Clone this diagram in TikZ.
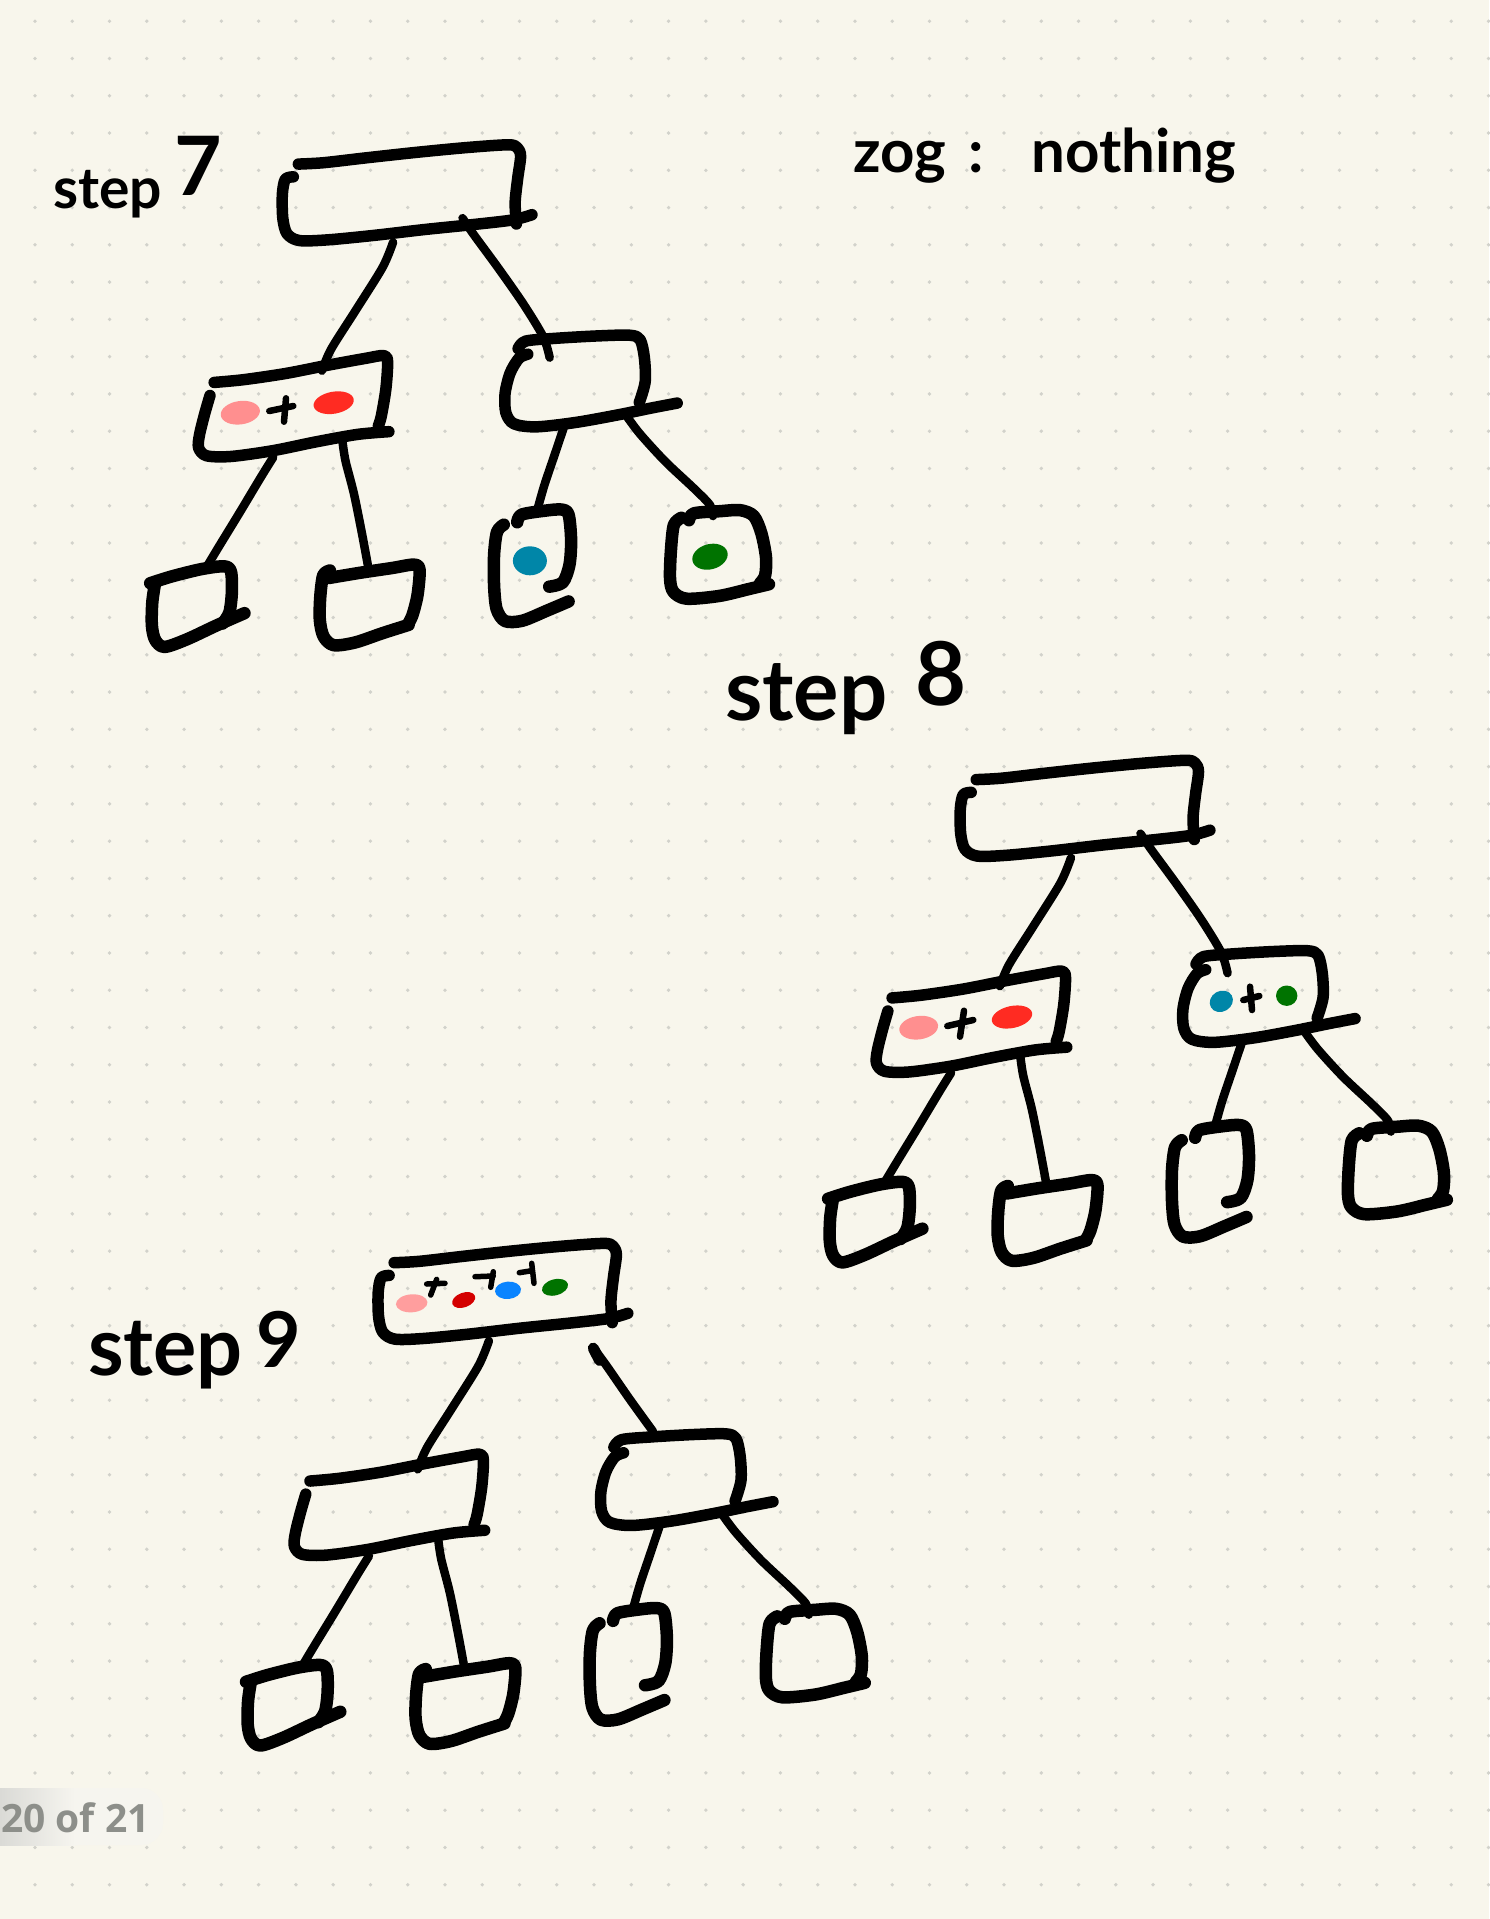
\documentclass[tikz,border=0pt]{standalone}
\usepackage{fontspec}
\setmainfont{Lato}
\newfontfamily\uifont{Open Sans}
\definecolor{bgc}{HTML}{F8F6EC}
\definecolor{dotc}{HTML}{D2D2CB}
\definecolor{pinkc}{HTML}{FF8F8F}
\definecolor{pinkl}{HTML}{FF9E9E}
\definecolor{redc}{HTML}{FF2B22}
\definecolor{redd}{HTML}{D40000}
\definecolor{tealc}{HTML}{0086A8}
\definecolor{bluec}{HTML}{0A84FF}
\definecolor{greenc}{HTML}{007300}
\definecolor{uigray}{HTML}{8D8F8A}
\definecolor{pillc}{HTML}{F6F5EF}
\definecolor{pillg}{HTML}{DADAD6}
\newcommand\treebody[1]{%
  % top box
  \draw[boxpen] plot[smooth] coordinates {(400,128) (460,124) (560,110) (680,94) (800,80) (898,72) (920,80) (928,105) (921,170) (915,240) (918,302)};
  \draw[boxpen] plot[smooth] coordinates {(388,165) (369,172) (362,215) (363,285) (373,330) (402,350) (470,348) (580,335) (700,318) (820,303) (910,290) (955,275)};
  % left child
  \draw[boxpen] plot[smooth] coordinates {(200,762) (270,754) (370,736) (470,712) (560,692) (603,684) (612,702) (608,780) (597,860) (590,888)};
  \draw[boxpen] plot[smooth] coordinates {(190,800) (177,855) (165,915) (163,952) (182,975) (240,977) (340,960) (440,935) (540,913) (615,905)};
  % right child
  \draw[boxpen] plot[smooth] coordinates {(922,664) (940,642) (1010,634) (1110,627) (1188,625) (1212,638) (1222,690) (1224,760) (1210,820)};
  \draw[boxpen] plot[smooth] coordinates {(945,680) (924,692) (903,735) (891,795) (893,850) (912,882) (965,891) (1060,878) (1160,856) (1240,836) (1300,822)};
  % edge end points
  \coordinate (#1-top-l) at (625,355);
  \coordinate (#1-lc-t) at (456,728);
  \coordinate (#1-lc-l) at (340,980);
  \coordinate (#1-lc-r) at (505,935);
  \coordinate (#1-rc-l) at (1030,895);
  \coordinate (#1-rc-r) at (1180,860);
  \coordinate (#1-l1) at (185,1292);
  \coordinate (#1-l2) at (565,1292);
  \coordinate (#1-l3) at (966,1140);
  \coordinate (#1-l4) at (1385,1150);
  % edges
  \draw[edgepen] plot[smooth] coordinates {(#1-top-l) (600,428) (535,555) (478,665) (#1-lc-t)};
  \draw[edgepen] plot[smooth] coordinates {(#1-lc-l) (312,1035) (258,1145) (213,1235) (#1-l1)};
  \draw[edgepen] plot[smooth] coordinates {(#1-lc-r) (512,990) (532,1085) (551,1200) (#1-l2)};
  \draw[edgepen] plot[smooth] coordinates {(#1-rc-l) (1008,975) (984,1062) (#1-l3)};
  \draw[edgepen] plot[smooth] coordinates {(#1-rc-r) (1212,912) (1272,992) (1340,1070) (1378,1118) (#1-l4)};
  % leaves
  \draw[leafpen] plot[smooth] coordinates {(48,1345) (100,1325) (170,1304) (224,1296) (240,1312) (242,1372) (236,1430) (220,1462)};
  \draw[leafpen] plot[smooth] coordinates {(60,1342) (53,1400) (52,1468) (60,1510) (82,1530) (135,1508) (205,1468) (272,1432)};
  \draw[leafpen] plot[smooth] coordinates {(472,1330) (545,1315) (622,1301) (674,1291) (688,1306) (683,1380) (671,1438) (660,1465)};
  \draw[leafpen] plot[smooth] coordinates {(475,1308) (459,1322) (452,1385) (451,1452) (460,1500) (484,1525) (535,1517) (600,1490) (662,1466)};
  \draw[leafpen] plot[smooth] coordinates {(920,1168) (930,1146) (982,1135) (1025,1131) (1042,1146) (1048,1220) (1044,1292) (1028,1343) (996,1355)};
  \draw[leafpen] plot[smooth] coordinates {(888,1175) (872,1196) (865,1262) (865,1352) (871,1420) (891,1455) (932,1454) (990,1425) (1042,1398)};
  \draw[leafpen] plot[smooth] coordinates {(1328,1162) (1340,1142) (1400,1136) (1450,1133) (1482,1150) (1500,1200) (1511,1270) (1509,1322) (1497,1345)};
  \draw[leafpen] plot[smooth] coordinates {(1310,1155) (1292,1176) (1285,1252) (1283,1332) (1291,1370) (1322,1390) (1400,1382) (1470,1362) (1518,1348)};
}
\begin{document}
\begin{tikzpicture}[x=1pt,y=-1pt,line cap=round,line join=round,
  boxpen/.style={line width=11.5pt,black},
  leafpen/.style={line width=12.5pt,black},
  edgepen/.style={line width=8.5pt,black},
  pluspen/.style={line width=6.5pt,black},
  markpen/.style={line width=5.5pt,black},
  handtext/.style={inner sep=0pt,anchor=base west,text=black}]
\useasboundingbox (0,0) rectangle (1489,1919);
\fill[bgc] (0,0) rectangle (1489,1919);
\foreach \i in {0,...,39}{\foreach \j in {0,...,51}{\fill[dotc] (35+\i*37.27,21.2+\j*37.27) circle (1.9pt);}}
% pill label
\fill[pillc] (-30,1788) [rounded corners=22pt] -- (163,1788) -- (163,1845) -- (-30,1845) -- cycle;
\shade[left color=pillg,right color=pillc] (0,1788) rectangle (75,1845);
\node[inner sep=0pt,anchor=base west,text=uigray,font=\uifont\bfseries\fontsize{39}{39}\selectfont] (page) at (1,1832) {20 of 21};
% labels
\node[handtext,font=\bfseries\fontsize{57}{57}\selectfont] (s7) at (53,208) {step\hspace{12pt}\raisebox{13pt}{\fontsize{82}{82}\selectfont 7}};
\node[handtext,font=\bfseries\fontsize{60}{60}\selectfont] (zog) at (853,172) {zog\hspace{22pt}:\hspace{48pt}nothing};
\node[handtext,font=\bfseries\fontsize{85}{85}\selectfont] (s8) at (725,720) {step\hspace{28pt}\raisebox{15pt}{\fontsize{88}{88}\selectfont 8}};
\node[handtext,font=\bfseries\fontsize{81}{81}\selectfont] (s9) at (88,1375) {step\hspace{14pt}\raisebox{8pt}{\fontsize{77}{77}\selectfont 9}};
% tree 7
\begin{scope}[shift={(130pt,-120pt)},x=0.42091pt,y=-0.34439pt]
  \treebody{t7}
  \coordinate (t7-top-r) at (790,285);
  \coordinate (t7-rc-t) at (997,690);
  \draw[edgepen] plot[smooth] coordinates {(t7-top-r) (818,335) (875,430) (935,535) (982,630) (t7-rc-t)};
\end{scope}
% tree 8
\begin{scope}[shift={(807.9pt,-735.5pt)},x=0.42091pt,y=-0.34439pt]
  \treebody{t8}
  \coordinate (t8-top-r) at (790,285);
  \coordinate (t8-rc-t) at (997,690);
  \draw[edgepen] plot[smooth] coordinates {(t8-top-r) (818,335) (875,430) (935,535) (982,630) (t8-rc-t)};
\end{scope}
% tree 9
\begin{scope}[shift={(225.8pt,-1218.6pt)},x=0.42091pt,y=-0.34439pt]
  \treebody{t9}
  \coordinate (t9-top-r) at (875,378);
  \coordinate (t9-rc-t) at (1015,618);
  \draw[edgepen] plot[smooth] coordinates {(t9-top-r) (905,428) (960,525) (t9-rc-t)};
  \draw[line width=11pt] (873,376) -- (888,412);
\end{scope}
% tree 7 contents
\fill[pinkc] (240.3,412.7) circle [x radius=19.7pt,y radius=11.7pt,rotate=8];
\draw[pluspen] (269.3,411) -- (293.3,406);
\draw[pluspen] (286,398.3) -- (284,421.7);
\fill[redc] (333.7,402.7) circle [x radius=20.3pt,y radius=11pt,rotate=10];
\fill[tealc] (529.9,560.8) circle [x radius=17pt,y radius=14.5pt];
\fill[greenc] (710,556.7) circle [x radius=18pt,y radius=12.6pt,rotate=15];
% tree 8 contents
\fill[pinkc] (918.7,1027.7) circle [x radius=19.5pt,y radius=11.7pt,rotate=8];
\draw[pluspen] (947.3,1026) -- (973.3,1020);
\draw[pluspen] (964,1010.7) -- (960,1036.7);
\fill[redc] (1012,1017) circle [x radius=20.5pt,y radius=11pt,rotate=12];
\fill[tealc] (1221.3,1001.3) circle [x radius=12pt,y radius=10.3pt,rotate=30];
\draw[pluspen] (1243.3,1000) -- (1259.3,996);
\draw[pluspen] (1250,986.7) -- (1252,1010);
\fill[greenc] (1286.7,995.7) circle [x radius=10.7pt,y radius=10.2pt];
% tree 9 contents
\fill[pinkl] (411.7,1303.3) circle [x radius=15.8pt,y radius=9pt,rotate=4];
\draw[markpen] (426.7,1284) -- (445,1283.3);
\draw[markpen] (436.7,1279.3) -- (430.7,1295);
\fill[redd] (463.7,1300) circle [x radius=12pt,y radius=7.3pt,rotate=20];
\draw[markpen] (475,1276.7) -- (493.3,1276);
\draw[markpen] (493.3,1271.7) -- (490.7,1287.3);
\fill[bluec] (508,1290.3) circle [x radius=13pt,y radius=8.7pt,rotate=5];
\draw[markpen] (519.3,1272.7) -- (531.7,1270.7);
\draw[markpen] (531.7,1263.3) -- (534,1283.3);
\fill[greenc] (555,1287.3) circle [x radius=13.3pt,y radius=8pt,rotate=15];
\end{tikzpicture}
\end{document}
